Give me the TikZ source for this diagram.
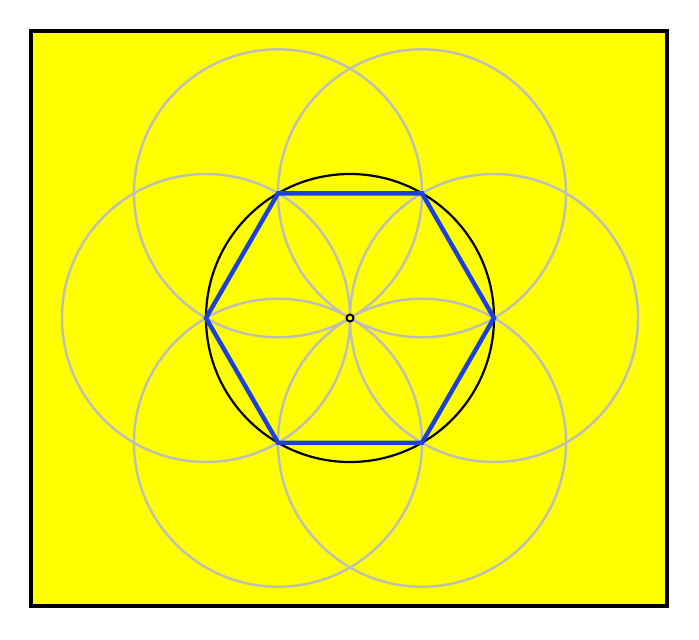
\documentclass[tikz,border=0pt]{standalone}
\usepackage{tikz}
\usepackage{xcolor}
\definecolor{hexblue}{RGB}{28,64,222}
\definecolor{sheet}{RGB}{255,255,0}
\definecolor{petalgray}{RGB}{190,190,185}

\begin{document}
\begin{tikzpicture}[x=0.5pt,y=0.5pt,
            petal/.style={draw=petalgray, line width=1.2pt},
            hexline/.style={draw=hexblue, line width=2.2pt, line join=miter}]
        \useasboundingbox (-350,-321) rectangle (349,318);
        \draw[fill=sheet, line width=1.6pt] (-319,287) rectangle (317,-288);

        \coordinate (O) at (0,0);
        \coordinate (A) at (0:144);
        \coordinate (B) at (60:144);
        \coordinate (C) at (120:144);
        \coordinate (D) at (180:144);
        \coordinate (E) at (240:144);
        \coordinate (F) at (300:144);

        \draw[petal] (A) circle (144);
        \draw[petal] (B) circle (144);
        \draw[petal] (C) circle (144);
        \draw[petal] (D) circle (144);
        \draw[petal] (E) circle (144);
        \draw[petal] (F) circle (144);

        \draw[color=black, line width=1.1pt] (O) circle (144);

        \draw[hexline] (A) -- (B) -- (C) -- (D) -- (E) -- (F) -- cycle;

        \draw[color=black, fill=sheet, line width=1pt] (O) circle (3.5);
    \end{tikzpicture}
\end{document}
